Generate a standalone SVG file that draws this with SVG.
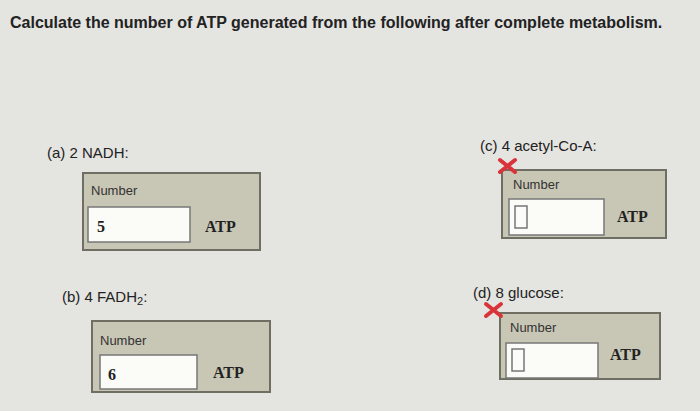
<svg xmlns="http://www.w3.org/2000/svg" width="700" height="411" viewBox="0 0 700 411">
<style>
.t{font-family:"Liberation Sans",Arial,sans-serif;fill:#222}
.p{fill:#c8c6b4;stroke:#6f6e62;stroke-width:2}
.i{fill:#fbfbf8;stroke:#777;stroke-width:1.5}
.a{font-family:"Liberation Serif","Times New Roman",serif;font-size:16px;font-weight:bold;fill:#222}
.n{font-family:"Liberation Sans",Arial,sans-serif;font-size:13px;fill:#333}
.x{stroke:#d9343a;stroke-width:4;stroke-linecap:round}
</style>
<rect width="700" height="411" fill="#e4e4e1"/>
<text class="t" x="10" y="28" font-size="16" font-weight="bold">Calculate the number of ATP generated from the following after complete metabolism.</text>
<g id="a">
<text class="t" x="47" y="158" font-size="15">(a) 2 NADH:</text>
<rect class="p" x="83" y="173" width="177" height="77"/>
<text class="n" x="91" y="195">Number</text>
<rect class="i" x="88" y="207" width="102" height="35"/>
<text class="a" x="97" y="232" font-weight="normal" font-size="15">5</text>
<text class="a" x="205" y="232">ATP</text>
</g>
<g id="b">
<text class="t" x="62" y="302" font-size="15">(b) 4 FADH<tspan font-size="11" dy="3">2</tspan><tspan dy="-3">:</tspan></text>
<rect class="p" x="92" y="321" width="178" height="71"/>
<text class="n" x="100" y="345">Number</text>
<rect class="i" x="100" y="355" width="97" height="34"/>
<text class="a" x="108" y="380" font-weight="normal" font-size="15">6</text>
<text class="a" x="213" y="378">ATP</text>
</g>
<g id="c">
<text class="t" x="480" y="151" font-size="15">(c) 4 acetyl-Co-A:</text>
<rect class="p" x="502" y="170" width="164" height="68"/>
<text class="n" x="513" y="189">Number</text>
<rect class="i" x="509" y="199" width="95" height="36"/>
<rect class="i" x="515" y="206" width="12" height="22"/>
<text class="a" x="617" y="222">ATP</text>
<path class="x" d="M500 160 L515 172 M515 160 L500 172"/>
</g>
<g id="d">
<text class="t" x="473" y="298" font-size="15">(d) 8 glucose:</text>
<rect class="p" x="500" y="313" width="160" height="66"/>
<text class="n" x="510" y="332">Number</text>
<rect class="i" x="506" y="343" width="92" height="35"/>
<rect class="i" x="512" y="349" width="12" height="22"/>
<text class="a" x="610" y="360">ATP</text>
<path class="x" d="M486 304 L501 316 M501 304 L486 316"/>
</g>
</svg>
